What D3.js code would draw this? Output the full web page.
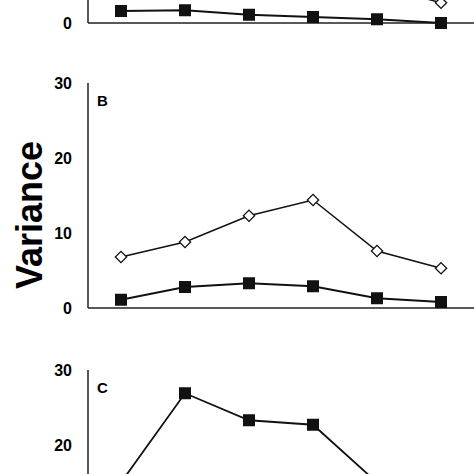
<!DOCTYPE html><html><head><script src="https://cdn.jsdelivr.net/npm/d3@7"></script>
<style>body{margin:0;background:#fff}</style></head><body><svg id="c" width="474" height="474"></svg><script>
const groups=["1","2","3","4","5","6"];
const ticks=[0,10,20,30];
const aSquares=[1.6,1.7,1.1,0.8,0.5,0.0];
const aDiamonds=[5,5,5,5,5,2.7];
const bSquares=[1.1,2.8,3.3,2.9,1.3,0.8];
const bDiamonds=[6.8,8.8,12.3,14.4,7.6,5.3];
const cSquares=[15,26.9,23.3,22.7,15,12];
const panels=[{label:"A",zero:23,sq:aSquares,di:aDiamonds},{label:"B",zero:308,sq:bSquares,di:bDiamonds},{label:"C",zero:595,sq:cSquares,di:null}];
const svg=d3.select("#c");
const x=d3.scalePoint().domain(groups).range([121,441]);
panels.forEach(p=>{
 const y=d3.scaleLinear().domain([0,30]).range([p.zero,p.zero-225]);
 const g=svg.append("g");
 g.append("line").attr("x1",88).attr("x2",88).attr("y1",y(0)).attr("y2",y(30)).attr("stroke","#222").attr("stroke-width",1.5);
 g.append("line").attr("x1",88).attr("x2",474).attr("y1",y(0)).attr("y2",y(0)).attr("stroke","#222").attr("stroke-width",1.5);
 g.selectAll(".t").data(ticks.filter(d=>y(d)>8&&y(d)<466)).join("text").attr("x",72).attr("y",d=>y(d)+6).attr("text-anchor","end")
  .attr("font-family","Liberation Sans, Arial").attr("font-weight","bold").attr("font-size",16).text(d=>d);
 if(y(30)>0) g.append("text").attr("x",97).attr("y",y(30)+23).attr("font-family","Liberation Sans, Arial").attr("font-weight","bold").attr("font-size",15).text(p.label);
 const line=d3.line().x((d,i)=>x(groups[i])).y(d=>y(d));
 if(p.di){
  g.append("path").attr("d",line(p.di)).attr("fill","none").attr("stroke","#111").attr("stroke-width",1.5);
  g.selectAll(".d").data(p.di).join("path").attr("transform",(d,i)=>`translate(${x(groups[i])},${y(d)}) rotate(45)`)
   .attr("d","M-4,-4H4V4H-4Z").attr("fill","#fff").attr("stroke","#111").attr("stroke-width",1.3);
 }
 g.append("path").attr("d",line(p.sq)).attr("fill","none").attr("stroke","#111").attr("stroke-width",1.8);
 g.selectAll(".s").data(p.sq).join("rect").attr("x",(d,i)=>x(groups[i])-6).attr("y",d=>y(d)-6).attr("width",12).attr("height",12).attr("fill","#111");
});
svg.append("text").attr("transform","translate(42,215) rotate(-90)").attr("text-anchor","middle")
 .attr("font-family","Liberation Sans, Arial").attr("font-weight","bold").attr("font-size",36).text("Variance");
</script></body></html>
